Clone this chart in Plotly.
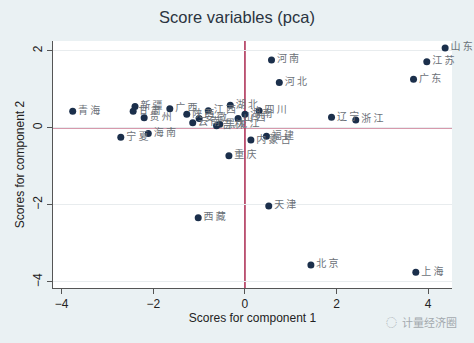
import plotly.graph_objects as go

# PCA scores for the 31 provinces (component 1, component 2)
provinces = ["山东", "江苏", "广东", "河南", "河北", "四川", "辽宁", "浙江",
             "福建", "内蒙古", "重庆", "西藏", "天津", "北京", "上海", "青海",
             "新疆", "甘肃", "贵州", "广西", "宁夏", "海南", "湖北", "江西",
             "陕西", "云南", "安徽", "吉林", "黑龙江", "山西", "湖南"]
score1 = [4.37, 3.97, 3.68, 0.58, 0.75, 0.31, 1.89, 2.42,
          0.47, 0.13, -0.35, -1.02, 0.52, 1.44, 3.73, -3.76,
          -2.40, -2.44, -2.20, -1.64, -2.71, -2.11, -0.32, -0.80,
          -1.27, -1.14, -1.00, -0.62, -0.55, -0.15, 0.00]
score2 = [2.07, 1.71, 1.26, 1.76, 1.17, 0.44, 0.27, 0.20,
          -0.22, -0.32, -0.73, -2.34, -2.03, -3.56, -3.75, 0.43,
          0.55, 0.43, 0.26, 0.49, -0.25, -0.15, 0.58, 0.44,
          0.35, 0.13, 0.24, 0.05, 0.09, 0.24, 0.35]

x_ticks = [-4, -2, 0, 2, 4]
y_ticks = [2, 0, -2, -4]

label_text = [" ".join(p) for p in provinces]

fig = go.Figure()

fig.add_trace(go.Scatter(
    x=score1, y=score2, mode="markers+text",
    text=label_text, textposition="middle right",
    textfont=dict(family="Noto Sans CJK SC", size=10, color="#6b7178"),
    marker=dict(color="#1b2f4b", size=7),
    cliponaxis=False, showlegend=False, hoverinfo="skip",
))

ref_color = "#b0355a"
fig.add_shape(type="line", xref="x", yref="paper", x0=0, x1=0, y0=0, y1=1,
              line=dict(color=ref_color, width=1.6), layer="below")
fig.add_shape(type="line", xref="paper", yref="y", x0=0, x1=1, y0=0, y1=0,
              line=dict(color=ref_color, width=1.6), layer="below")

# account watermark in the lower right corner
fig.add_annotation(text="◌  计量经济圈", xref="paper", yref="paper",
                   x=1.018, y=-0.137, xanchor="right", yanchor="middle",
                   showarrow=False,
                   font=dict(family="Noto Sans CJK SC", size=11, color="#a3a9ae"))

fig.update_layout(
    width=474, height=343,
    margin=dict(l=53, r=22, t=41, b=55),
    paper_bgcolor="#eaf1f3", plot_bgcolor="#ffffff",
    title=dict(text="Score variables (pca)", x=0.5, xanchor="center",
               y=0.95, yanchor="middle",
               font=dict(family="Liberation Sans", size=16.5, color="#2b3440")),
    font=dict(family="Liberation Sans", color="#222222"),
)

fig.update_xaxes(
    range=[-4.19, 4.52], tickvals=x_ticks, ticks="outside", ticklen=5,
    tickcolor="#555555", showline=True, linecolor="#555555", linewidth=1,
    showgrid=False, zeroline=False,
    tickfont=dict(size=12, color="#222222"),
    title=dict(text="Scores for component 1", standoff=0,
               font=dict(size=12, color="#222222")),
)
fig.update_yaxes(
    range=[-4.16, 2.25], tickvals=y_ticks, ticks="outside", ticklen=5,
    tickcolor="#555555", showline=True, linecolor="#555555", linewidth=1,
    showgrid=True, gridcolor="#e8ecee", gridwidth=1, zeroline=False,
    tickangle=-90,
    tickfont=dict(size=12, color="#222222"),
    title=dict(text="Scores for component 2", standoff=4,
               font=dict(size=12, color="#222222")),
)

fig.write_html("out.html")
